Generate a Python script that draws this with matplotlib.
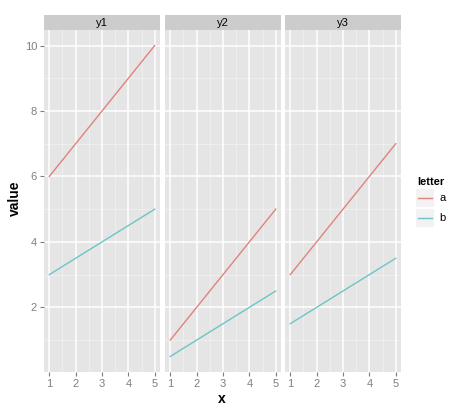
import numpy as np
import matplotlib
matplotlib.use('Agg')
import matplotlib.pyplot as plt
from matplotlib.lines import Line2D

# data
x = [1, 2, 3, 4, 5]
panels = ['y1', 'y2', 'y3']
vals_a = {'y1': [6, 7, 8, 9, 10], 'y2': [1, 2, 3, 4, 5], 'y3': [3, 4, 5, 6, 7]}
vals_b = {'y1': [3, 3.5, 4, 4.5, 5], 'y2': [0.5, 1, 1.5, 2, 2.5], 'y3': [1.5, 2, 2.5, 3, 3.5]}
letters = ['a', 'b']
colors = {'a': '#E0837D', 'b': '#6EC4C6'}

plt.rcParams['font.family'] = ['Liberation Sans', 'DejaVu Sans']

W, H = 474, 413
fig = plt.figure(figsize=(W/100, H/100), dpi=100)

lefts = [44, 165, 285]
pw = 116
ptop, pbot = 30, 372
strip_h = 15

ylo, yhi = 0.025, 10.475
xlo, xhi = 0.8, 5.2

for i, p in enumerate(panels):
    ax = fig.add_axes([lefts[i]/W, (H-pbot)/H, pw/W, (pbot-ptop)/H])
    ax.set_facecolor('#E5E5E5')
    ax.set_xlim(xlo, xhi)
    ax.set_ylim(ylo, yhi)
    for v in [1.5, 2.5, 3.5, 4.5]:
        ax.axvline(v, color='#F0F0F0', lw=0.6, zorder=0)
    for v in [1, 3, 5, 7, 9]:
        ax.axhline(v, color='#F0F0F0', lw=0.6, zorder=0)
    for v in x:
        ax.axvline(v, color='white', lw=1.1, zorder=0)
    for v in [2, 4, 6, 8, 10]:
        ax.axhline(v, color='white', lw=1.1, zorder=0)
    ax.plot(x, vals_a[p], color=colors['a'], lw=1.0, zorder=2)
    ax.plot(x, vals_b[p], color=colors['b'], lw=1.0, zorder=2)
    for s in ax.spines.values():
        s.set_visible(False)
    ax.set_xticks(x)
    ax.set_xticklabels([str(v) for v in x])
    ax.tick_params(axis='x', colors='#7F7F7F', labelcolor='#7F7F7F', labelsize=8,
                   length=3, width=0.8, pad=2)
    if i == 0:
        ax.set_yticks([2, 4, 6, 8, 10])
        ax.tick_params(axis='y', colors='#7F7F7F', labelcolor='#7F7F7F', labelsize=8,
                       length=3, width=0.8, pad=2)
    else:
        ax.set_yticks([])
    # strip
    sax = fig.add_axes([lefts[i]/W, (H-ptop)/H, pw/W, strip_h/H])
    sax.set_facecolor('#CCCCCC')
    sax.set_xticks([]); sax.set_yticks([])
    for s in sax.spines.values():
        s.set_visible(False)
    sax.text(0.5, 0.45, p, ha='center', va='center', fontsize=8, transform=sax.transAxes)

fig.text(222/W, 1 - 399/H, 'x', ha='center', va='center', fontsize=10, fontweight='bold')
fig.text(15/W, 1 - 198/H, 'value', ha='center', va='center', fontsize=10,
         fontweight='bold', rotation=90)

# legend
fig.text(417/W, 1 - 182/H, 'letter', ha='left', va='center', fontsize=8, fontweight='bold')
for j, l in enumerate(letters):
    yk = 198 + 20*j
    kax = fig.add_axes([416/W, 1 - (yk+9)/H, 18/W, 18/H])
    kax.set_facecolor('#F2F2F2')
    kax.set_xlim(0, 1); kax.set_ylim(0, 1)
    kax.set_xticks([]); kax.set_yticks([])
    for s in kax.spines.values():
        s.set_visible(False)
    kax.add_line(Line2D([0.1, 0.9], [0.5, 0.5], color=colors[l], lw=1.0))
    fig.text(439/W, 1 - yk/H, l, ha='left', va='center', fontsize=8)

fig.savefig('out.png', dpi=100)
